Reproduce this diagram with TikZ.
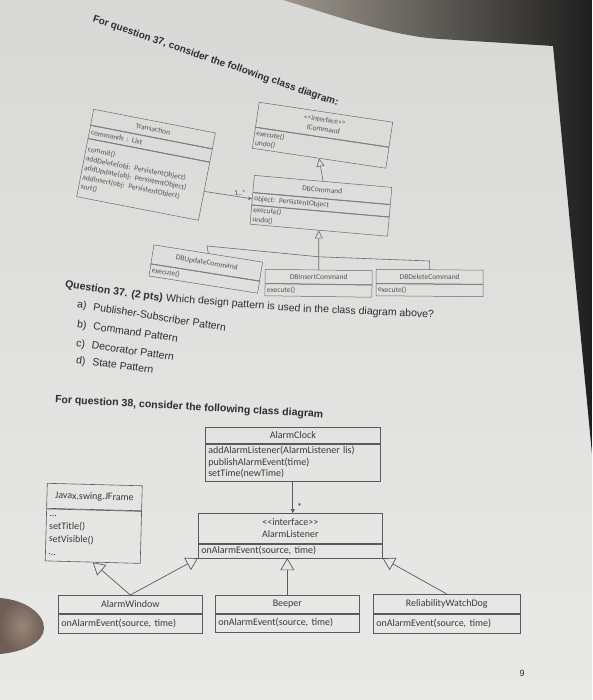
\documentclass[tikz,border=0pt]{standalone}
\usepackage{fontspec}
\setmainfont{Liberation Sans}
\newfontfamily\umlf{Carlito}
\usetikzlibrary{arrows.meta}
\definecolor{paperT}{HTML}{D8D8D6}
\definecolor{paperB}{HTML}{E9E9E7}
\definecolor{darkbg}{HTML}{1F1F1F}
\definecolor{tableL}{HTML}{9C968C}
\definecolor{thumbI}{HTML}{9A8678}
\definecolor{thumbO}{HTML}{6E5E56}
\definecolor{inkq}{HTML}{2E2E2E}
\definecolor{inkt}{HTML}{555555}
\definecolor{linet}{HTML}{6A6A6A}
\definecolor{inkb}{HTML}{3A3A3A}
\definecolor{lineb}{HTML}{5A5A5A}
\newcommand\tdfont{\umlf\fontsize{7.5}{9.5}\selectfont}
\newcommand\bdfont{\umlf\fontsize{10}{11.5}\selectfont}
\begin{document}
\begin{tikzpicture}[x=1pt,y=-1pt,
  tbox/.style={draw=linet, line width=.5pt, text=inkt, font=\tdfont, inner xsep=2pt, inner ysep=0pt, anchor=north west},
  bbox/.style={draw=lineb, line width=.6pt, text=inkb, font=\bdfont, inner xsep=3pt, inner ysep=0pt, anchor=north west},
  tgen/.style={draw=linet, line width=.6pt, -{Triangle[open,length=8pt,width=8pt]}},
  tass/.style={draw=linet, line width=.6pt, -{Stealth[length=4pt,width=3.5pt]}},
  tline/.style={draw=linet, line width=.6pt},
  bgen/.style={draw=lineb, line width=.7pt, -{Triangle[open,length=12pt,width=14pt]}},
  bnav/.style={draw=lineb, line width=.7pt, -{Triangle[length=4pt,width=4pt]}},
  qtext/.style={text=inkq, font=\fontsize{10.5}{12}\selectfont, inner sep=0pt, anchor=west},
  htext/.style={text=inkq, font=\bfseries\fontsize{10}{12}\selectfont, inner sep=0pt, anchor=west},
]
\useasboundingbox (0,0) rectangle (592,700);
\shade[top color=paperT, bottom color=paperB] (0,0) rectangle (592,700);
\shade[left color=tableL, middle color=darkbg, right color=darkbg] (283,0) .. controls (330,14) and (390,36) .. (440,39) -- (553,46) -- (592,454) -- (592,0) -- cycle;
\shade[inner color=thumbI, outer color=thumbO] (0,598) .. controls (26,600) and (44,614) .. (44,628) .. controls (44,642) and (24,652) .. (0,654) -- cycle;

% ---------- question 37 heading
\node[htext, rotate=-19] (t37) at (93,19) {For question 37, consider the following class diagram:};

% ---------- Transaction
\node[tbox, rotate=-11, text width=120pt, minimum height=16pt, align=center] (trA) at (93.5,109) {Transaction};
\node[tbox, rotate=-11, text width=120pt, minimum height=13pt, align=left] (trB) at (trA.south west) {commands : List};
\node[tbox, rotate=-11, text width=120pt, minimum height=59pt, align=left] (trC) at (trB.south west) {commit()\\addDelete(obj: PersistentObject)\\addUpdate(obj: PersistentObject)\\addInsert(obj: PersistentObject)\\sort()};

% ---------- ICommand
\node[tbox, rotate=-8.5, text width=131pt, minimum height=25pt, align=center] (icA) at (259,102) {<\kern0pt<interface>\kern0pt>\\ICommand};
\node[tbox, rotate=-8.5, text width=131pt, minimum height=21pt, align=left] (icB) at (icA.south west) {execute()\\undo()};

% ---------- DBCommand
\node[tbox, rotate=-5, text width=134pt, minimum height=17pt, align=center] (dbA) at (254.1,175.1) {DBCommand};
\node[tbox, rotate=-5, text width=134pt, minimum height=12pt, align=left] (dbB) at (dbA.south west) {object: PersistentObject};
\node[tbox, rotate=-5, text width=134pt, minimum height=19pt, align=left] (dbC) at (dbB.south west) {execute()\\undo()};

% ---------- subclasses
\node[tbox, rotate=-9, text width=106pt, minimum height=19pt, align=center] (upA) at (153.7,244.6) {DBUpdateCommand};
\node[tbox, rotate=-9, text width=106pt, minimum height=12pt, align=left] (upB) at (upA.south west) {execute()};
\node[tbox, rotate=-0.8, text width=103pt, minimum height=14pt, align=center] (inA) at (265,269) {DBInsertCommand};
\node[tbox, rotate=-0.8, text width=103pt, minimum height=12pt, align=left] (inB) at (inA.south west) {execute()};
\node[tbox, rotate=-0.5, text width=103pt, minimum height=14pt, align=center] (deA) at (376,269) {DBDeleteCommand};
\node[tbox, rotate=-0.5, text width=103pt, minimum height=12pt, align=left] (deB) at (deA.south west) {execute()};

% ---------- connectors (top)
\draw[tgen] (dbA.north) -- (icB.south);
\draw[tgen] (inA.north) -- coordinate[pos=0.33] (jn) (dbC.south);
\coordinate (jl) at (207,246);
\coordinate (jr) at (429.5,261);
\draw[tline] (upA.north) -- (jl) -- (jn) -- (jr) -- (deA.north);
\draw[tass] (trC.east) -- node[pos=0.75, above=1pt, font=\tdfont, text=inkt, inner sep=0pt] (mult) {1..*} (dbB.west);

% ---------- question 37 text
\node[qtext, rotate=-8] (q37a) at (65,285) {\textbf{Question 37. (2 pts)}};
\node[qtext, rotate=-4.5] (q37b) at ([xshift=3pt]q37a.east) {Which design pattern is used};
\node[qtext, rotate=-2.5] (q37c) at ([xshift=2.5pt]q37b.east) {in the class diagram above?};
\node[qtext, rotate=-9] (oa) at (77,305) {a)\hspace{7pt}Publisher-Subscriber Pattern};
\node[qtext, rotate=-8] (ob) at (77,325) {b)\hspace{7pt}Command Pattern};
\node[qtext, rotate=-8] (oc) at (76,344) {c)\hspace{7pt}Decorator Pattern};
\node[qtext, rotate=-7] (od) at (76,361) {d)\hspace{7pt}State Pattern};

% ---------- question 38 heading
\node[htext, rotate=-3.2, font=\bfseries\fontsize{10.5}{12}\selectfont] (t38) at (55,400) {For question 38, consider the following class diagram};

% ---------- bottom diagram
\node[bbox, text width=169pt, minimum height=16pt, align=center] (acA) at (205,427) {AlarmClock};
\node[bbox, text width=169pt, minimum height=37pt, align=left] (acB) at (acA.south west) {addAlarmListener(AlarmListener lis)\\publishAlarmEvent(time)\\setTime(newTime)};

\node[bbox, text width=178pt, minimum height=30pt, align=center] (alA) at (198,513) {<\kern0pt<interface>\kern0pt>\\AlarmListener};
\node[bbox, text width=178pt, minimum height=14pt, align=left] (alB) at (alA.south west) {onAlarmEvent(source, time)};

\node[bbox, rotate=-1.5, text width=89pt, minimum height=25pt, align=center] (jfA) at (47,483) {Javax.swing.JFrame};
\node[bbox, rotate=-1.5, text width=89pt, minimum height=52pt, align=left] (jfB) at (jfA.south west) {...\\[1.5pt]setTitle()\\[1.5pt]setVisible()\\[1.5pt]...};

\node[bbox, text width=138pt, minimum height=18pt, align=center] (awA) at (58,595) {AlarmWindow};
\node[bbox, text width=138pt, minimum height=19pt, align=left] (awB) at (awA.south west) {onAlarmEvent(source, time)};
\node[bbox, text width=138pt, minimum height=18pt, align=center] (bpA) at (215,595) {Beeper};
\node[bbox, text width=138pt, minimum height=18pt, align=left] (bpB) at (bpA.south west) {onAlarmEvent(source, time)};
\node[bbox, text width=141pt, minimum height=19pt, align=center] (rwA) at (373,594) {ReliabilityWatchDog};
\node[bbox, text width=141pt, minimum height=19pt, align=left] (rwB) at (rwA.south west) {onAlarmEvent(source, time)};

\draw[bnav] (acB.south) -- node[pos=0.82, right=4pt, font=\bdfont, text=inkb, inner sep=0pt] (star) {*} (acB.south |- alA.north);
\draw[bgen] (bpA.north) -- (bpA.north |- alB.south);
\draw[bgen] (awA.north) -- (alB.south west);
\draw[bgen] (awA.north) -- (jfB.south);
\draw[bgen] (rwA.north) -- (alB.south east);

\node[text=inkq, font=\fontsize{9}{10}\selectfont] (pg) at (522,673) {9};
\end{tikzpicture}
\end{document}
